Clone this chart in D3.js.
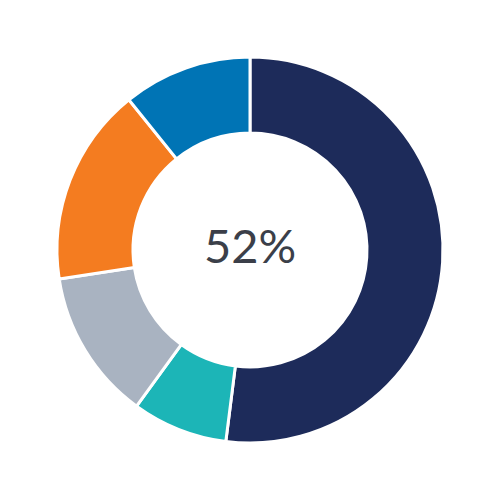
<!DOCTYPE html>
<html>
<head>
<meta charset="utf-8">
<script src="https://cdn.jsdelivr.net/npm/d3@7"></script>
<style>
  body { margin: 0; background: #fff; }
</style>
</head>
<body>
<svg id="chart" width="500" height="500"></svg>
<script>
const categories = ['A', 'B', 'C', 'D', 'E'];
const values = [52, 8, 12.6, 16.6, 10.8];
const colors = ['#1d2b5a', '#1cb5b7', '#a9b3c1', '#f47c20', '#0074b5'];
const centerLabel = '52%';

const width = 500, height = 500;
const outerR = 193, innerR = 117;

const svg = d3.select('#chart');
const g = svg.append('g')
    .attr('transform', 'translate(' + width / 2 + ',' + height / 2 + ')');

const pie = d3.pie().sort(null).value((d) => d.value);
const arc = d3.arc().innerRadius(innerR).outerRadius(outerR);

const data = categories.map((c, i) => ({ name: c, value: values[i], color: colors[i] }));

g.selectAll('path')
    .data(pie(data))
    .enter()
    .append('path')
    .attr('d', arc)
    .attr('fill', (d) => d.data.color)
    .attr('stroke', '#fff')
    .attr('stroke-width', 3);

// center label, baseline sits a bit above the middle
g.append('text')
    .text(centerLabel)
    .attr('text-anchor', 'middle')
    .attr('y', 13)
    .attr('font-family', 'Lato, sans-serif')
    .attr('font-size', '47px')
    .attr('fill', '#3b3f49');
</script>
</body>
</html>
